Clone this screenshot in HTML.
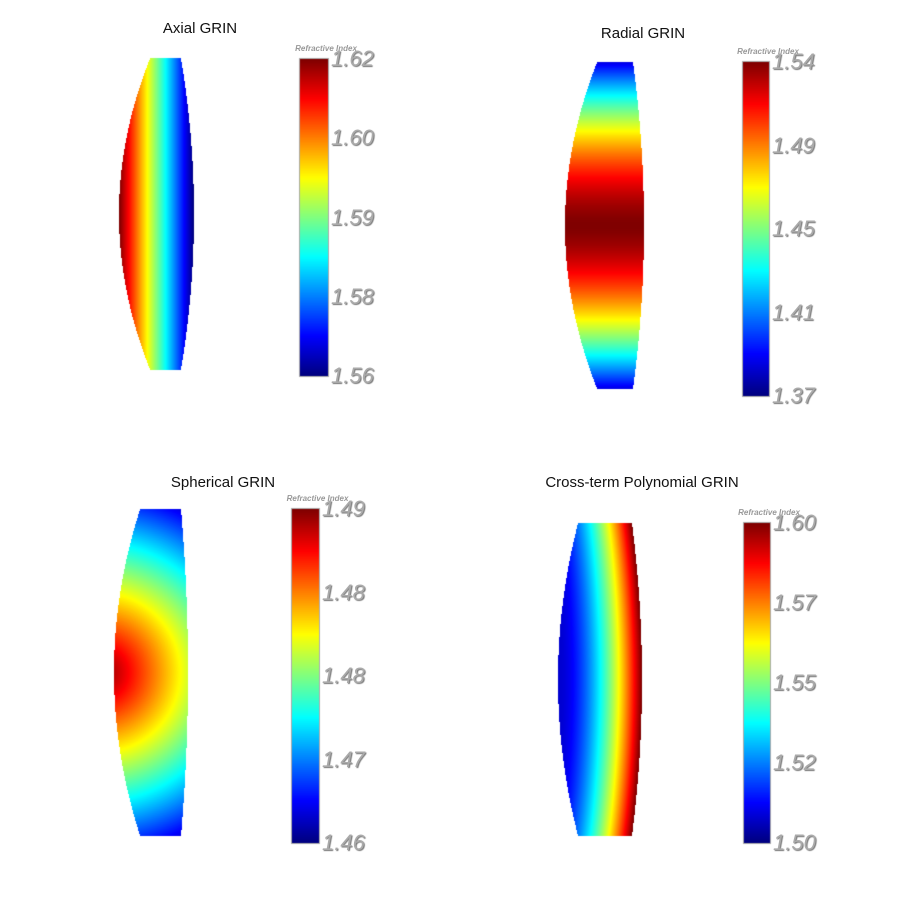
<!DOCTYPE html>
<html><head><meta charset="utf-8"><style>
body{margin:0;background:#fff;width:900px;height:900px;overflow:hidden;position:relative;font-family:"Liberation Sans",sans-serif}
canvas{position:absolute;left:0;top:0}
.t{position:absolute;font-size:15px;color:#111;transform:translateX(-50%);white-space:nowrap}
.lab{position:absolute;font-style:italic;font-size:22px;color:#aaa;text-shadow:1px 1px 1px #777;transform:translateY(-50%);white-space:nowrap}
.ri{position:absolute;font-style:italic;font-weight:bold;font-size:8px;color:#999;transform:translateX(-50%);white-space:nowrap}
</style></head><body>
<canvas id="c" width="900" height="900"></canvas>
<div id="txt"></div>
<script>
// tick label arrays (colorbar values per panel)
const axialTicks=["1.62","1.60","1.59","1.58","1.56"];
const radialTicks=["1.54","1.49","1.45","1.41","1.37"];
const sphericalTicks=["1.49","1.48","1.48","1.47","1.46"];
const crossTicks=["1.60","1.57","1.55","1.52","1.50"];
const titles=["Axial GRIN","Radial GRIN","Spherical GRIN","Cross-term Polynomial GRIN"];

function jet(t){t=Math.max(0,Math.min(1,t));
 const f=x=>Math.max(0,Math.min(1,x));
 return [f(1.5-Math.abs(4*t-3))*255,f(1.5-Math.abs(4*t-2))*255,f(1.5-Math.abs(4*t-1))*255];}
const cv=document.getElementById('c'),ctx=cv.getContext('2d');
const img=ctx.createImageData(900,900);
for(let i=0;i<img.data.length;i++)img.data[i]=255;
function put(x,y,t){const c=jet(t),k=(y*900+x)*4;img.data[k]=c[0];img.data[k+1]=c[1];img.data[k+2]=c[2];}
function lens(L,fn){const ym=(L.y0+L.y1)/2,h=(L.y1-L.y0)/2;
 for(let y=L.y0;y<=L.y1;y++){const q=((y-ym)/h)**2;
  const xl=L.xlm+(L.xl0-L.xlm)*q,xr=L.xrm+(L.xr0-L.xrm)*q;
  for(let x=Math.round(xl);x<=Math.round(xr);x++)put(x,y,fn(x,y,ym,h,q));}}
const panels=[
 {L:{y0:58,y1:369,xl0:150,xr0:180,xlm:119,xrm:193},fn:(x)=>1-(x-119)/74,cb:[300,59,28,317],ticks:axialTicks,title:[200,22]},
 {L:{y0:62,y1:388,xl0:597,xr0:632,xlm:565,xrm:643},fn:(x,y,ym)=>1-0.9*Math.pow(Math.abs(y-ym)/163,1.6),cb:[743,62,26,334],ticks:radialTicks,title:[643,27]},
 {L:{y0:509,y1:835,xl0:140,xr0:180,xlm:114,xrm:187},fn:(x,y)=>1-Math.pow(Math.hypot(x-100,y-672)/201,1.06),cb:[292,509,27,334],ticks:sphericalTicks,title:[223,476]},
 {L:{y0:523,y1:835,xl0:578,xr0:631,xlm:558,xrm:641},fn:(x,y,ym,h,q)=>0.08+0.92*Math.pow(Math.max(0,x-560+10*q)/81,1.6),cb:[744,523,26,320],ticks:crossTicks,title:[642,476]}
];
panels.forEach(p=>{lens(p.L,p.fn);
 const [x0,y0,w,hh]=p.cb;
 for(let y=y0;y<y0+hh;y++)for(let x=x0;x<x0+w;x++)put(x,y,1-(y-y0)/(hh-1));});
ctx.putImageData(img,0,0);
ctx.strokeStyle='#aaa';ctx.lineWidth=1;
panels.forEach(p=>{const [x0,y0,w,hh]=p.cb;ctx.strokeRect(x0-0.5,y0-0.5,w+1,hh+1);});
const T=document.getElementById('txt');
panels.forEach((p,i)=>{
 const d=document.createElement('div');d.className='t';d.textContent=titles[i];
 d.style.left=p.title[0]+'px';d.style.top=(p.title[1]-2)+'px';
 
 
 T.appendChild(d);
 const [x0,y0,w,hh]=p.cb;
 const r=document.createElement('div');r.className='ri';r.textContent='Refractive Index';
 r.style.left=(x0+w/2+12)+'px';r.style.top=(y0-15)+'px';
 
 
 T.appendChild(r);
 p.ticks.forEach((s,j)=>{const e=document.createElement('div');e.className='lab';e.textContent=s;
  e.style.left=(x0+w+3)+'px';e.style.top=(y0+hh*j/(p.ticks.length-1))+'px';
  
  
  T.appendChild(e);});
});
</script>
</body></html>
